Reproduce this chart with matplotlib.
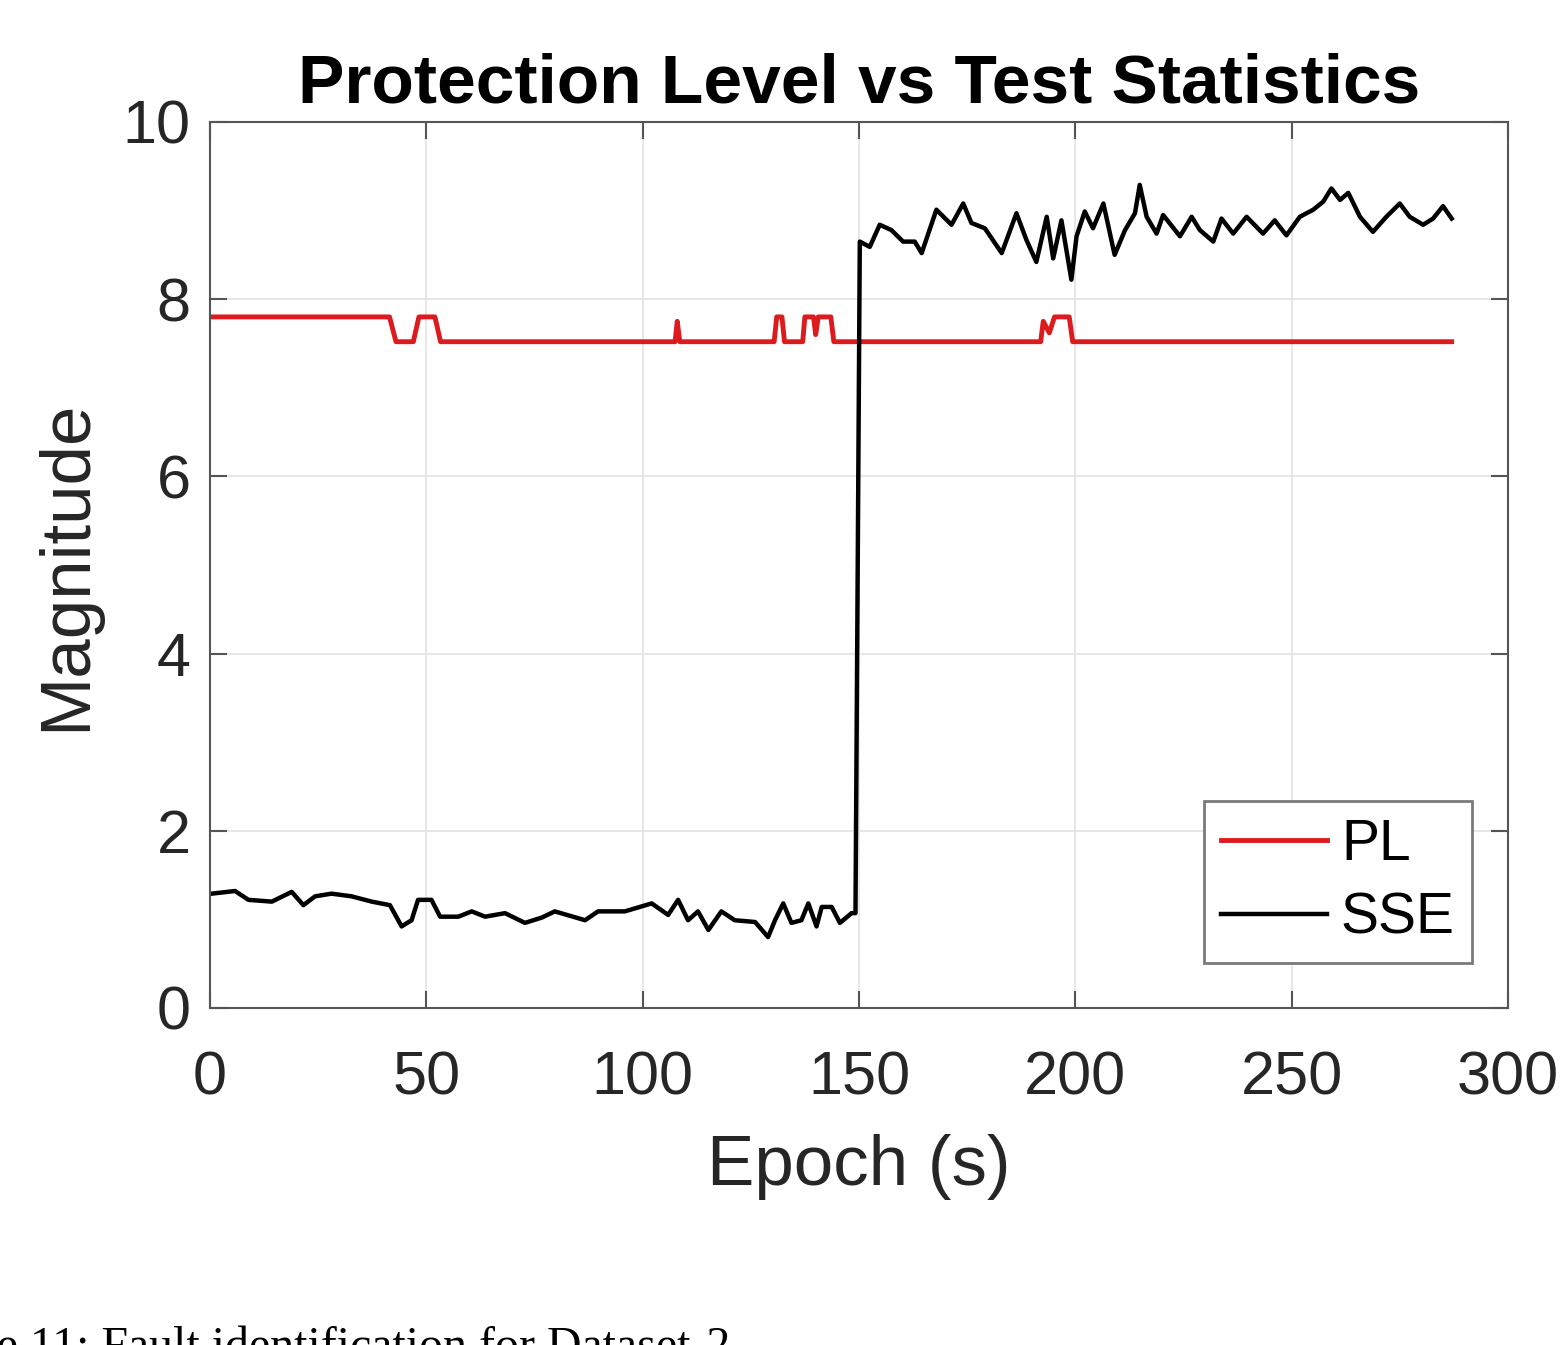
import numpy as np
import matplotlib.pyplot as plt

# PL: piecewise level (epoch, value)
pl_epoch = [0, 41.5, 43, 47, 48.3, 52, 53.3, 107.5, 108, 108.6, 130.4, 131, 132.2,
            132.8, 137, 137.5, 139.5, 140, 140.6, 143.5, 144.2, 192, 192.6, 194,
            195.2, 198.6, 199.4, 287]
pl_value = [7.8, 7.8, 7.52, 7.52, 7.8, 7.8, 7.52, 7.52, 7.75, 7.52, 7.52, 7.8, 7.8,
            7.52, 7.52, 7.8, 7.8, 7.6, 7.8, 7.8, 7.52, 7.52, 7.75, 7.62,
            7.8, 7.8, 7.52, 7.52]

# SSE test statistic
sse_epoch = [0.4, 5.8, 8.9, 14.3, 18.9, 21.6, 24.3, 28.1, 32.7, 37.4, 41.6, 44.3, 46.6,
             48.1, 51.2, 53.2, 57.4, 60.5, 63.6, 68.2, 72.8, 76.7, 79.7, 86.7, 89.7,
             95.9, 102.1, 105.9, 108.2, 110.5, 112.8, 115.2, 118.2, 121.3, 126, 129,
             130.6, 132.5, 134.4, 136.7, 138.3, 140.2, 141.4, 143.7, 145.6, 148.3, 149.2,
             150.2, 152.5, 154.8, 157.5, 160.2, 162.9, 164.5, 167.9, 171.4, 174.1, 176,
             179.1, 183, 186.4, 188.7, 191, 193.4, 194.9, 196.8, 199.1, 200.3, 202.2,
             204.1, 206.5, 209.1, 211.5, 213.8, 214.9, 216.5, 218.8, 220.3, 224.2,
             226.9, 228.8, 231.9, 233.8, 236.5, 239.6, 243.4, 246.1, 248.8, 251.9, 255,
             257.3, 259.2, 261.2, 263.1, 265.8, 268.8, 271.9, 275, 277.3, 280.4, 282.7,
             285, 287]
sse_value = [1.29, 1.32, 1.22, 1.20, 1.31, 1.16, 1.26, 1.29, 1.26, 1.20, 1.16, 0.92, 0.99,
             1.22, 1.22, 1.03, 1.03, 1.09, 1.03, 1.07, 0.96, 1.02, 1.09, 0.99, 1.09,
             1.09, 1.18, 1.05, 1.22, 0.99, 1.09, 0.88, 1.09, 0.99, 0.97, 0.80,
             0.99, 1.18, 0.96, 0.99, 1.18, 0.92, 1.14, 1.14, 0.96, 1.07, 1.07,
             8.65, 8.59, 8.84, 8.78, 8.65, 8.65, 8.52, 9.01, 8.84, 9.08, 8.86,
             8.80, 8.52, 8.97, 8.67, 8.42, 8.93, 8.46, 8.89, 8.22, 8.71, 8.99,
             8.80, 9.08, 8.50, 8.78, 8.97, 9.29, 8.93, 8.74, 8.95, 8.71,
             8.93, 8.78, 8.65, 8.91, 8.74, 8.93, 8.74, 8.89, 8.72, 8.93, 9.01,
             9.10, 9.25, 9.12, 9.20, 8.93, 8.76, 8.93, 9.08, 8.93, 8.84, 8.91,
             9.05, 8.91]

plt.rcParams['font.family'] = ['Liberation Sans', 'DejaVu Sans']

fig = plt.figure(figsize=(15.61, 13.45), dpi=100)
ax = fig.add_axes([0.1345, 0.2506, 0.8315, 0.6587])

ax.plot(pl_epoch, pl_value, color='#dd1a1e', lw=3.5, label='PL')
ax.plot(sse_epoch, sse_value, color='black', lw=3.2, label='SSE')

ax.set_xlim(0, 300)
ax.set_ylim(0, 10)
ax.set_xticks(np.arange(0, 301, 50))
ax.set_yticks(np.arange(0, 11, 2))
ax.grid(True, color='#e3e3e3', lw=1.2)
ax.set_axisbelow(True)
for s in ax.spines.values():
    s.set_color('#555555')
    s.set_linewidth(1.5)
ax.tick_params(direction='in', length=12, width=1.5, color='#555555',
               labelsize=44, labelcolor='#262626', top=True, right=True)
ax.tick_params(axis='x', pad=31)
ax.tick_params(axis='y', pad=14)

ax.set_xlabel('Epoch (s)', fontsize=51, color='#262626', labelpad=19)
ax.set_ylabel('Magnitude', fontsize=51, color='#262626', labelpad=16)
ax.set_title('Protection Level vs Test Statistics', fontsize=50, fontweight='bold',
             pad=14)

leg = ax.legend(loc='upper right', fontsize=41, handlelength=1.85, handletextpad=0.25,
                borderpad=0.3, labelspacing=0.35, fancybox=False,
                bbox_to_anchor=(0.9723, 0.2336), borderaxespad=0)
leg.get_frame().set_edgecolor('#7a7a7a')
leg.get_frame().set_linewidth(2)
leg.get_frame().set_alpha(1)

fig.text(0.4677, -0.011, 'Figure 11: Fault identification for Dataset-2', ha='right',
         va='baseline', fontsize=34.5, family='Liberation Serif')

plt.savefig('out.png', dpi=100)
plt.close()
